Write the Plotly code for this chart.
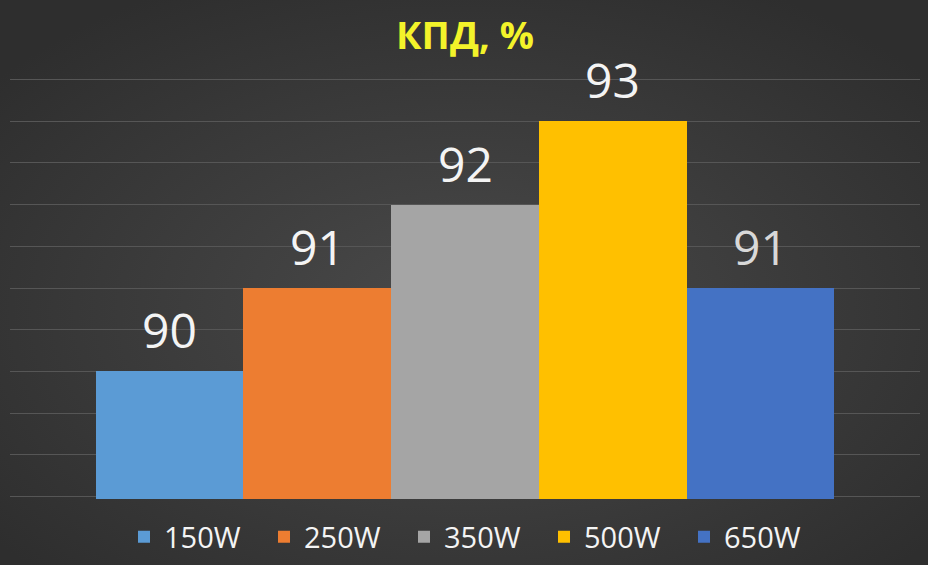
import base64
import plotly.graph_objects as go

categories = ["150W", "250W", "350W", "500W", "650W"]
efficiency = [90, 91, 92, 93, 91]
title_text = "КПД, %"

bar_colors = ["#5b9bd5", "#ed7d31", "#a5a5a5", "#ffc000", "#4472c4"]
label_colors = ["#f4f4f4", "#f4f4f4", "#f4f4f4", "#f4f4f4", "#d8d8d8"]

W, H = 928, 565
ML, MR, MT, MB = 10, 8, 77, 66
PW, PH = W - ML - MR, H - MT - MB

fig = go.Figure()
for cat, val, col in zip(categories, efficiency, bar_colors):
    fig.add_trace(go.Bar(
        x=[cat], y=[val], name=cat,
        marker=dict(color=col, line=dict(width=0)),
        width=1.0,
        hoverinfo="skip",
    ))

for cat, val, lc in zip(categories, efficiency, label_colors):
    fig.add_annotation(
        x=cat, y=val, text=str(val), showarrow=False,
        yanchor="bottom", yshift=7,
        font=dict(family="Open Sans", size=48, color=lc),
    )

svg = (
    '<svg xmlns="http://www.w3.org/2000/svg" width="928" height="565" viewBox="0 0 928 565" preserveAspectRatio="none">'
    '<defs><radialGradient id="g" cx="50%" cy="55%" r="65%">'
    '<stop offset="0%" stop-color="#4a4a4a"/>'
    '<stop offset="100%" stop-color="#2e2e2e"/>'
    '</radialGradient></defs>'
    '<rect width="928" height="565" fill="url(#g)"/></svg>'
)
bg_src = "data:image/svg+xml;base64," + base64.b64encode(svg.encode()).decode()

fig.update_layout(
    width=W, height=H,
    margin=dict(l=ML, r=MR, t=MT, b=MB),
    paper_bgcolor="#3c3c3c",
    plot_bgcolor="rgba(0,0,0,0)",
    barmode="overlay",
    bargap=0,
    images=[dict(
        source=bg_src, xref="paper", yref="paper",
        x=-ML / PW, y=1 + MT / PH, sizex=W / PW, sizey=H / PH,
        xanchor="left", yanchor="top", sizing="stretch", layer="below",
    )],
    title=dict(
        text="<b>" + title_text + "</b>",
        x=0.5, xanchor="center", xref="paper",
        y=1 - 36 / H, yanchor="middle",
        font=dict(family="Open Sans", size=38, color="#f3f32a"),
    ),
    xaxis=dict(
        type="category",
        range=[-1.08, 5.08],
        showticklabels=False, showgrid=False, zeroline=False,
        showline=False, ticks="",
    ),
    yaxis=dict(
        range=[88.47, 93.53],
        dtick=0.5, tick0=88.5,
        showticklabels=False, showgrid=True,
        gridcolor="#565656", gridwidth=1,
        zeroline=False, showline=False, ticks="",
    ),
    legend=dict(
        orientation="h",
        x=0.5 + 9 / PW, xanchor="center",
        yref="container", y=1 - 537 / H, yanchor="middle",
        font=dict(family="Open Sans", size=29, color="#f4f4f4"),
        entrywidth=95, entrywidthmode="pixels",
        bgcolor="rgba(0,0,0,0)",
        traceorder="normal",
    ),
    showlegend=True,
)

fig.write_html("out.html", config={"displayModeBar": False})

with open("out.html", "r", encoding="utf-8") as f:
    html = f.read()
html = html.replace("<head>", "<head><style>html,body{margin:0;padding:0;background:#3c3c3c;}</style>", 1)
with open("out.html", "w", encoding="utf-8") as f:
    f.write(html)
